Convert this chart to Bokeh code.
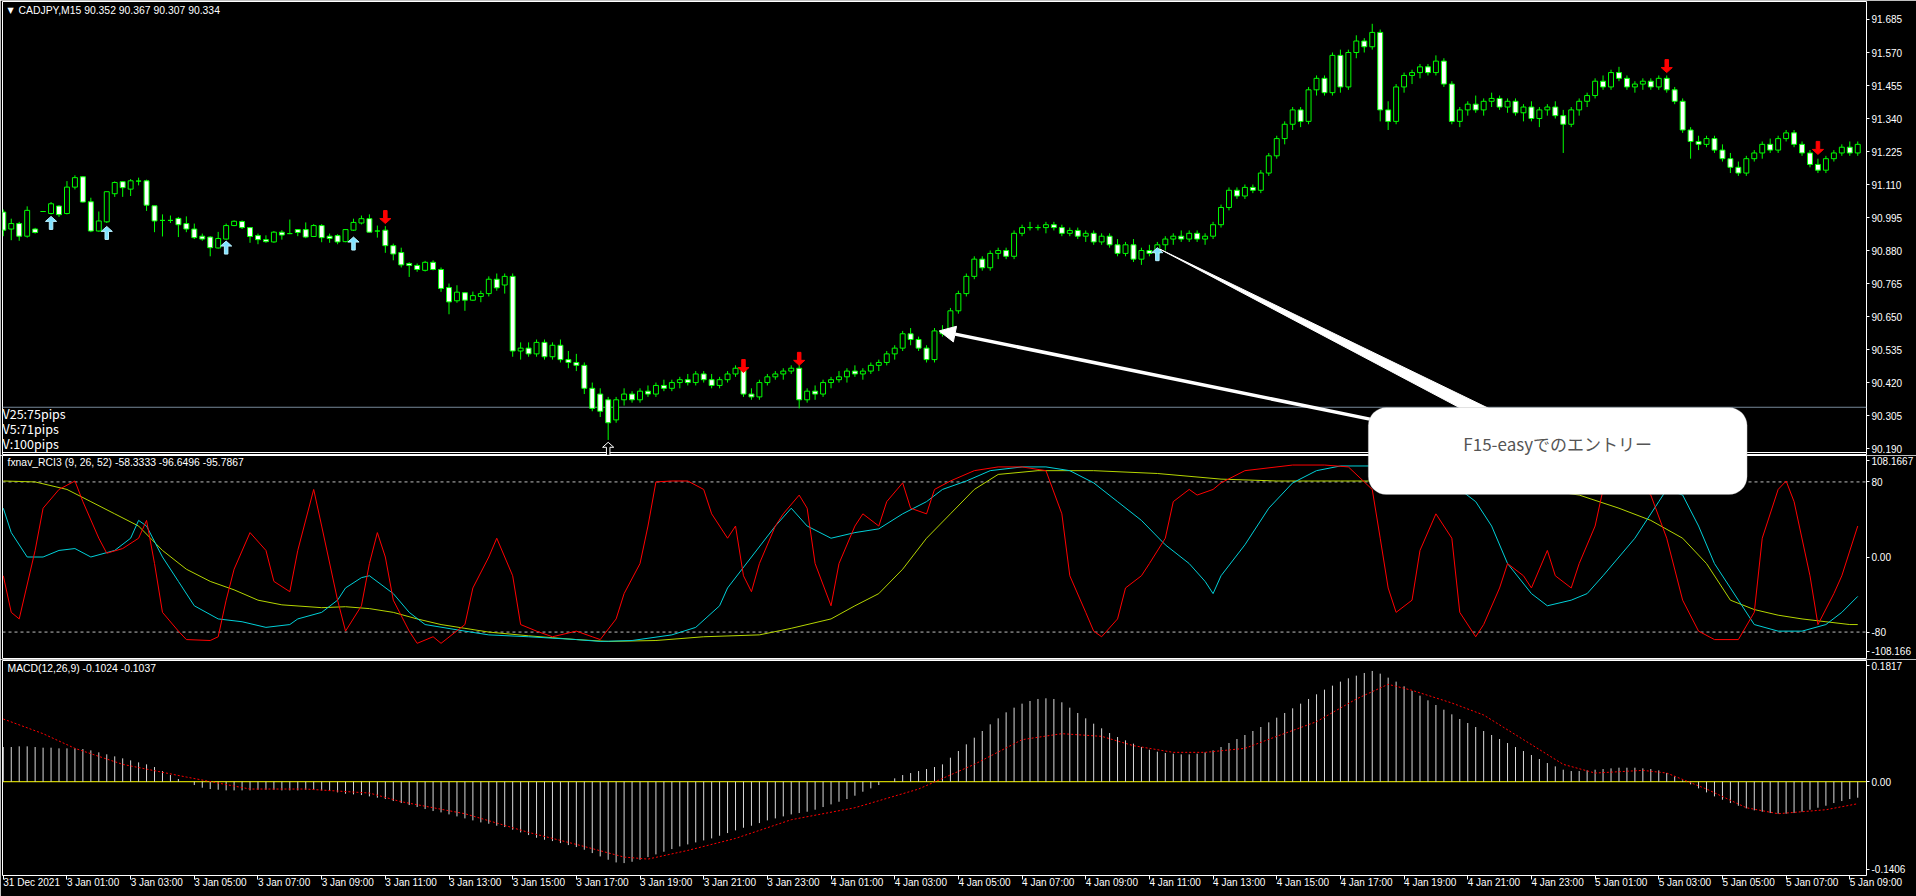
import numpy as np
from bokeh.plotting import figure
from bokeh.layouts import column
from bokeh.models import (Range1d, FixedTicker, Label, Span, BoxAnnotation, PolyAnnotation,
                          Arrow, NormalHead, ColumnDataSource)
from bokeh.embed import file_html
from bokeh.resources import INLINE

# ---------------- data ----------------
opens = [
 91.014, 90.955, 90.974, 90.930, 90.955, 91.016, 91.009, 91.035, 91.009, 91.101,
 91.137, 91.050, 90.948, 90.980, 91.078, 91.120, 91.094, 91.122, 91.123, 91.036,
 90.985, 90.985, 90.992, 90.974, 90.955, 90.930, 90.927, 90.889, 90.920, 90.967,
 90.981, 90.960, 90.932, 90.918, 90.910, 90.944, 90.939, 90.953, 90.953, 90.929,
 90.967, 90.930, 90.932, 90.911, 90.951, 90.976, 90.991, 90.948, 90.951, 90.897,
 90.873, 90.835, 90.828, 90.811, 90.839, 90.814, 90.751, 90.705, 90.733, 90.707,
 90.72, 90.73, 90.78, 90.76, 90.79, 90.53, 90.54, 90.52, 90.56, 90.51,
 90.55, 90.50, 90.49, 90.48, 90.40, 90.38, 90.36, 90.29, 90.36, 90.38,
 90.36, 90.39, 90.38, 90.41, 90.40, 90.42, 90.43, 90.42, 90.45, 90.43,
 90.41, 90.43, 90.45, 90.47, 90.38, 90.37, 90.42, 90.44, 90.45, 90.46,
 90.47, 90.36, 90.39, 90.38, 90.42, 90.43, 90.44, 90.46, 90.45, 90.46,
 90.48, 90.49, 90.52, 90.54, 90.59, 90.57, 90.54, 90.50, 90.60, 90.59,
 90.67, 90.73, 90.79, 90.85, 90.82, 90.87, 90.88, 90.86, 90.94, 90.96,
 90.96, 90.96, 90.97, 90.96, 90.94, 90.95, 90.93, 90.94, 90.91, 90.93,
 90.90, 90.87, 90.90, 90.85, 90.88, 90.87, 90.90, 90.92, 90.93, 90.92,
 90.94, 90.92, 90.93, 90.97, 91.03, 91.09, 91.07, 91.10, 91.09, 91.15,
 91.21, 91.27, 91.32, 91.37, 91.33, 91.44, 91.48, 91.43, 91.56, 91.45,
 91.57, 91.61, 91.59, 91.64, 91.37, 91.33, 91.45, 91.49, 91.50, 91.52,
 91.50, 91.54, 91.46, 91.33, 91.37, 91.39, 91.37, 91.40, 91.41, 91.38,
 91.40, 91.36, 91.38, 91.34, 91.37, 91.38, 91.35, 91.32, 91.37, 91.40,
 91.42, 91.47, 91.45, 91.50, 91.48, 91.45, 91.46, 91.47, 91.45, 91.48,
 91.44, 91.40, 91.30, 91.26, 91.25, 91.27, 91.23, 91.20, 91.17, 91.15,
 91.20, 91.22, 91.25, 91.23, 91.27, 91.29, 91.25, 91.22, 91.18, 91.16,
 91.20, 91.22, 91.24, 91.22]
highs = [
 91.023, 90.991, 90.980, 91.034, 90.959, 91.017, 91.049, 91.038, 91.122, 91.142,
 91.139, 91.064, 91.016, 91.085, 91.121, 91.122, 91.129, 91.134, 91.127, 91.036,
 91.006, 91.002, 90.997, 90.999, 90.974, 90.939, 90.930, 90.945, 90.974, 90.985,
 90.985, 90.960, 90.939, 90.933, 90.948, 90.951, 90.988, 90.955, 90.978, 90.972,
 90.972, 90.939, 90.937, 90.955, 90.991, 91.002, 91.006, 90.967, 90.965, 90.904,
 90.890, 90.839, 90.835, 90.844, 90.846, 90.821, 90.765, 90.759, 90.735, 90.737,
 90.74, 90.79, 90.80, 90.80, 90.80, 90.56, 90.56, 90.57, 90.57, 90.56,
 90.57, 90.53, 90.52, 90.49, 90.42, 90.40, 90.37, 90.37, 90.40, 90.39,
 90.40, 90.41, 90.42, 90.43, 90.43, 90.44, 90.45, 90.46, 90.46, 90.45,
 90.44, 90.46, 90.48, 90.48, 90.40, 90.43, 90.45, 90.46, 90.47, 90.48,
 90.49, 90.40, 90.41, 90.43, 90.44, 90.46, 90.47, 90.48, 90.47, 90.49,
 90.50, 90.53, 90.55, 90.60, 90.61, 90.58, 90.55, 90.61, 90.62, 90.68,
 90.74, 90.80, 90.86, 90.86, 90.88, 90.89, 90.89, 90.95, 90.97, 90.98,
 90.97, 90.98, 90.98, 90.97, 90.96, 90.96, 90.95, 90.95, 90.94, 90.94,
 90.92, 90.91, 90.92, 90.89, 90.90, 90.91, 90.93, 90.94, 90.95, 90.95,
 90.95, 90.94, 90.98, 91.04, 91.10, 91.10, 91.11, 91.11, 91.16, 91.22,
 91.28, 91.33, 91.38, 91.38, 91.45, 91.49, 91.49, 91.57, 91.58, 91.58,
 91.63, 91.62, 91.67, 91.65, 91.40, 91.46, 91.50, 91.51, 91.53, 91.53,
 91.56, 91.55, 91.47, 91.38, 91.40, 91.42, 91.41, 91.43, 91.42, 91.41,
 91.41, 91.39, 91.40, 91.38, 91.39, 91.40, 91.37, 91.38, 91.41, 91.43,
 91.48, 91.49, 91.51, 91.52, 91.49, 91.47, 91.48, 91.48, 91.49, 91.49,
 91.45, 91.41, 91.31, 91.28, 91.28, 91.28, 91.25, 91.22, 91.19, 91.21,
 91.23, 91.26, 91.27, 91.28, 91.30, 91.30, 91.26, 91.23, 91.20, 91.21,
 91.23, 91.25, 91.26, 91.26]
lows = [
 90.930, 90.916, 90.914, 90.925, 90.939, 91.015, 91.006, 90.997, 91.006, 91.093,
 91.047, 90.944, 90.946, 90.976, 91.067, 91.067, 91.070, 91.107, 91.018, 90.944,
 90.929, 90.976, 90.927, 90.944, 90.920, 90.914, 90.860, 90.887, 90.918, 90.965,
 90.955, 90.907, 90.902, 90.907, 90.907, 90.918, 90.937, 90.930, 90.923, 90.927,
 90.909, 90.907, 90.902, 90.909, 90.948, 90.971, 90.943, 90.925, 90.872, 90.846,
 90.821, 90.788, 90.806, 90.807, 90.811, 90.736, 90.658, 90.698, 90.670, 90.705,
 90.70, 90.72, 90.74, 90.73, 90.51, 90.50, 90.51, 90.51, 90.50, 90.50,
 90.49, 90.47, 90.46, 90.38, 90.32, 90.30, 90.22, 90.28, 90.34, 90.35,
 90.35, 90.37, 90.37, 90.39, 90.39, 90.40, 90.41, 90.41, 90.42, 90.40,
 90.40, 90.42, 90.44, 90.37, 90.36, 90.36, 90.41, 90.43, 90.43, 90.45,
 90.33, 90.35, 90.36, 90.37, 90.40, 90.42, 90.42, 90.44, 90.43, 90.45,
 90.46, 90.48, 90.50, 90.53, 90.55, 90.53, 90.49, 90.49, 90.58, 90.58,
 90.66, 90.72, 90.78, 90.81, 90.81, 90.85, 90.85, 90.85, 90.93, 90.95,
 90.95, 90.94, 90.95, 90.93, 90.93, 90.92, 90.91, 90.90, 90.90, 90.89,
 90.86, 90.86, 90.84, 90.83, 90.86, 90.86, 90.88, 90.90, 90.91, 90.91,
 90.91, 90.90, 90.92, 90.96, 91.02, 91.06, 91.06, 91.08, 91.08, 91.14,
 91.20, 91.25, 91.30, 91.31, 91.32, 91.42, 91.42, 91.42, 91.43, 91.44,
 91.55, 91.57, 91.58, 91.33, 91.30, 91.32, 91.43, 91.46, 91.48, 91.49,
 91.49, 91.45, 91.32, 91.31, 91.35, 91.36, 91.35, 91.38, 91.37, 91.36,
 91.35, 91.33, 91.33, 91.31, 91.35, 91.34, 91.22, 91.31, 91.35, 91.38,
 91.41, 91.44, 91.44, 91.47, 91.44, 91.43, 91.44, 91.44, 91.44, 91.43,
 91.39, 91.29, 91.20, 91.23, 91.24, 91.22, 91.19, 91.15, 91.14, 91.14,
 91.19, 91.20, 91.22, 91.22, 91.26, 91.24, 91.21, 91.17, 91.15, 91.15,
 91.19, 91.21, 91.21, 91.21]
closes = [
 90.951, 90.974, 90.930, 91.020, 90.943, 91.016, 91.043, 91.005, 91.101, 91.134,
 91.049, 90.948, 90.983, 91.085, 91.117, 91.099, 91.123, 91.122, 91.038, 90.983,
 90.985, 90.985, 90.970, 90.955, 90.925, 90.920, 90.890, 90.922, 90.967, 90.982,
 90.960, 90.929, 90.918, 90.911, 90.944, 90.934, 90.939, 90.943, 90.927, 90.967,
 90.925, 90.922, 90.910, 90.953, 90.978, 90.991, 90.944, 90.948, 90.897, 90.868,
 90.830, 90.828, 90.814, 90.839, 90.814, 90.748, 90.701, 90.735, 90.707, 90.723,
 90.73, 90.78, 90.75, 90.79, 90.53, 90.54, 90.52, 90.56, 90.51, 90.55,
 90.50, 90.49, 90.48, 90.40, 90.33, 90.32, 90.28, 90.36, 90.38, 90.36,
 90.39, 90.38, 90.41, 90.40, 90.42, 90.43, 90.42, 90.45, 90.43, 90.41,
 90.43, 90.45, 90.47, 90.38, 90.37, 90.42, 90.44, 90.45, 90.46, 90.47,
 90.36, 90.39, 90.38, 90.42, 90.43, 90.44, 90.46, 90.45, 90.46, 90.48,
 90.49, 90.52, 90.54, 90.59, 90.57, 90.54, 90.50, 90.60, 90.59, 90.67,
 90.73, 90.79, 90.85, 90.82, 90.87, 90.88, 90.86, 90.94, 90.96, 90.96,
 90.96, 90.97, 90.96, 90.94, 90.95, 90.93, 90.94, 90.91, 90.93, 90.90,
 90.87, 90.90, 90.85, 90.88, 90.87, 90.90, 90.92, 90.93, 90.92, 90.94,
 90.92, 90.93, 90.97, 91.03, 91.09, 91.07, 91.10, 91.09, 91.15, 91.21,
 91.27, 91.32, 91.37, 91.33, 91.44, 91.48, 91.43, 91.56, 91.45, 91.57,
 91.61, 91.59, 91.64, 91.37, 91.33, 91.45, 91.49, 91.50, 91.52, 91.50,
 91.54, 91.46, 91.33, 91.37, 91.39, 91.37, 91.40, 91.41, 91.38, 91.40,
 91.36, 91.38, 91.34, 91.37, 91.38, 91.35, 91.32, 91.37, 91.40, 91.42,
 91.47, 91.45, 91.50, 91.48, 91.45, 91.46, 91.47, 91.45, 91.48, 91.44,
 91.40, 91.30, 91.26, 91.25, 91.27, 91.23, 91.20, 91.17, 91.15, 91.20,
 91.22, 91.25, 91.23, 91.27, 91.29, 91.25, 91.22, 91.18, 91.16, 91.20,
 91.22, 91.24, 91.22, 91.25]

# signal arrows (candle index, tip price)
up_arrow_k = [6, 13, 28, 44, 145]
up_arrow_tip = [90.999, 90.964, 90.913, 90.927, 90.890]
down_arrow_k = [48, 93, 100, 209, 228]
down_arrow_tip = [90.974, 90.455, 90.480, 91.500, 91.215]
hollow_arrow_k = [76]
hollow_arrow_tip = [90.212]

# RCI (9, 26, 52)
rci9_k = [0,1,2,4,5,7,9,10,12,13,15,17,18,19,20,22,23,26,27,28,29,31,33,34,36,37,39,40,42,43,45,46,47,48,49,51,52,54,55,58,59,61,62,64,65,67,69,72,74,75,77,78,80,81,82,84,86,88,89,91,92,93,94,95,97,98,100,101,102,104,105,107,108,110,111,113,114,116,117,119,122,125,128,131,133,134,136,137,138,140,141,143,144,146,147,149,150,152,153,156,162,166,169,172,173,174,175,177,178,180,182,183,185,186,188,189,191,192,194,195,197,198,200,201,203,205,207,209,211,213,215,218,220,221,223,224,225,227,228,230,231,233]
rci9_v = [-20,-59,-66,7,52,72,81,59,20,4,9,20,39,-7,-59,-79,-88,-89,-85,-46,-13,26,7,-26,-37,7,72,33,-46,-79,-52,-7,26,0,-46,-79,-92,-85,-92,-72,-33,0,20,-20,-72,-79,-85,-79,-85,-88,-66,-39,-7,33,80,81,81,72,46,20,33,-20,-37,-7,33,46,66,52,-7,-52,-7,33,46,33,59,79,52,46,72,81,92,96,96,92,46,-20,-59,-79,-85,-66,-33,-20,-7,20,59,72,66,72,79,92,98,98,96,72,20,-33,-59,-46,7,46,20,-59,-85,-72,-33,-7,-20,-33,7,-20,-33,-7,33,72,79,81,66,20,-46,-79,-88,-88,-59,20,72,81,59,-20,-72,-39,-20,33]
rci26_k = [0,1,3,5,7,9,11,14,16,17,18,20,22,24,27,30,33,36,37,40,42,43,45,46,49,51,53,58,61,66,72,75,79,84,87,90,91,94,97,99,101,104,107,110,113,116,118,121,124,128,131,134,137,140,143,146,149,151,152,153,156,159,162,165,168,174,179,180,183,185,187,189,192,194,197,199,201,205,208,209,211,213,215,218,220,223,226,229,231,233]
rci26_v = [52,26,0,0,7,9,0,7,20,39,33,0,-26,-52,-66,-69,-75,-72,-66,-59,-46,-33,-22,-20,-39,-59,-72,-79,-83,-85,-88,-90,-89,-83,-75,-52,-33,0,33,52,33,20,26,30,46,59,72,81,92,96,96,92,79,59,39,13,-7,-26,-39,-20,13,52,79,92,97,97,92,79,72,59,33,-7,-39,-52,-46,-39,-20,20,59,72,66,33,-7,-46,-72,-79,-79,-72,-59,-42]
rci52_k = [0,4,8,11,14,17,20,23,26,29,32,35,40,43,46,49,52,55,58,61,66,72,76,82,88,95,99,104,107,110,113,116,119,122,125,130,137,145,153,160,168,175,183,191,198,203,207,211,214,217,220,223,226,229,232,233]
rci52_v = [81,80,72,59,46,33,7,-13,-26,-35,-46,-51,-54,-53,-55,-59,-66,-72,-76,-80,-84,-88,-90,-89,-85,-83,-76,-66,-52,-39,-13,20,46,72,88,92,92,89,83,81,81,81,79,75,66,52,39,20,-7,-46,-56,-62,-66,-69,-72,-72]

# MACD (12,26,9)
macd_hist = [
 0.052,0.052,0.053,0.053,0.052,0.051,0.051,0.050,0.050,0.050,
 0.049,0.047,0.044,0.041,0.038,0.035,0.032,0.029,0.026,0.022,
 0.016,0.010,0.004,0.000,-0.005,-0.009,-0.011,-0.012,-0.013,-0.013,
 -0.013,-0.013,-0.012,-0.012,-0.012,-0.013,-0.013,-0.013,-0.012,-0.012,
 -0.013,-0.014,-0.016,-0.018,-0.019,-0.020,-0.022,-0.024,-0.026,-0.029,
 -0.032,-0.035,-0.038,-0.041,-0.044,-0.046,-0.049,-0.052,-0.055,-0.058,
 -0.061,-0.063,-0.066,-0.068,-0.072,-0.076,-0.080,-0.084,-0.087,-0.089,
 -0.092,-0.095,-0.098,-0.102,-0.107,-0.112,-0.117,-0.121,-0.122,-0.120,
 -0.117,-0.113,-0.109,-0.105,-0.101,-0.097,-0.094,-0.091,-0.088,-0.085,
 -0.081,-0.077,-0.073,-0.069,-0.066,-0.062,-0.058,-0.055,-0.052,-0.049,
 -0.047,-0.045,-0.042,-0.038,-0.034,-0.030,-0.026,-0.021,-0.015,-0.010,
 -0.005,0.000,0.005,0.010,0.013,0.016,0.019,0.022,0.026,0.036,
 0.046,0.056,0.066,0.076,0.086,0.095,0.104,0.111,0.117,0.121,
 0.124,0.125,0.124,0.119,0.111,0.103,0.095,0.087,0.080,0.073,
 0.067,0.062,0.057,0.052,0.048,0.045,0.043,0.042,0.041,0.041,
 0.042,0.044,0.047,0.052,0.058,0.064,0.070,0.076,0.082,0.089,
 0.096,0.103,0.110,0.117,0.124,0.131,0.138,0.144,0.150,0.155,
 0.159,0.163,0.166,0.162,0.156,0.150,0.143,0.136,0.129,0.122,
 0.115,0.108,0.101,0.094,0.088,0.082,0.076,0.070,0.064,0.058,
 0.052,0.046,0.040,0.034,0.028,0.023,0.018,0.016,0.016,0.017,
 0.018,0.019,0.020,0.021,0.021,0.021,0.020,0.019,0.017,0.013,
 0.008,0.002,-0.004,-0.010,-0.016,-0.022,-0.027,-0.032,-0.036,-0.040,
 -0.043,-0.045,-0.047,-0.048,-0.048,-0.047,-0.045,-0.042,-0.039,-0.036,
 -0.032,-0.029,-0.026,-0.024]
macd_sig_k = [0,5,9,15,23,31,38,46,50,58,66,72,78,81,86,92,99,107,115,122,128,133,138,142,147,151,156,160,165,170,174,177,182,186,191,196,200,206,209,214,219,223,229,233]
macd_sig_v = [0.094,0.072,0.05,0.026,0.007,-0.011,-0.011,-0.017,-0.03,-0.048,-0.076,-0.094,-0.113,-0.116,-0.103,-0.085,-0.057,-0.039,-0.011,0.026,0.063,0.072,0.068,0.054,0.044,0.044,0.05,0.068,0.09,0.124,0.146,0.137,0.118,0.1,0.063,0.026,0.013,0.017,0.013,-0.011,-0.039,-0.048,-0.042,-0.033]

# axis ticks / labels
price_ticks = [91.685, 91.570, 91.455, 91.340, 91.225, 91.110, 90.995, 90.880, 90.765, 90.650, 90.535, 90.420, 90.305, 90.190]
price_tick_labels = ["91.685", "91.570", "91.455", "91.340", "91.225", "91.110", "90.995", "90.880", "90.765", "90.650", "90.535", "90.420", "90.305", "90.190"]
bid_price = 90.334
rci_ticks = [102.8, 80, 0, -80, -100.7]
rci_tick_labels = ["108.1667", "80", "0.00", "-80", "-108.166"]
macd_ticks = [0.1741, 0.0, -0.1315]
macd_tick_labels = ["0.1817", "0.00", "-0.1406"]
time_ticks = list(range(0, 233, 8))
time_labels = ["31 Dec 2021",
 "3 Jan 01:00", "3 Jan 03:00", "3 Jan 05:00", "3 Jan 07:00", "3 Jan 09:00", "3 Jan 11:00",
 "3 Jan 13:00", "3 Jan 15:00", "3 Jan 17:00", "3 Jan 19:00", "3 Jan 21:00", "3 Jan 23:00",
 "4 Jan 01:00", "4 Jan 03:00", "4 Jan 05:00", "4 Jan 07:00", "4 Jan 09:00", "4 Jan 11:00",
 "4 Jan 13:00", "4 Jan 15:00", "4 Jan 17:00", "4 Jan 19:00", "4 Jan 21:00", "4 Jan 23:00",
 "5 Jan 01:00", "5 Jan 03:00", "5 Jan 05:00", "5 Jan 07:00", "5 Jan 09:00"]

header_main = "CADJPY,M15  90.352 90.367 90.307 90.334"
header_rci = "fxnav_RCI3 (9, 26, 52) -58.3333 -96.6496 -95.7867"
header_macd = "MACD(12,26,9) -0.1024 -0.1037"
vol_labels = ["V25:75pips", "V5:71pips", "V:100pips"]
callout_text = "F15-easyでのエントリー"
entry_k = 117
signal_k = 145

# ---------------- layout ----------------
W = 1916
BR = 48
H1, H2, H3 = 455, 204, 237
FH1, FH2, FH3 = H1 - 1, H2 - 1, H3 - 22
xr = Range1d(-0.1, 234.1)
AXIS_FONT = "Liberation Sans"
Y1 = (90.1659, 91.7477)
main_bottom_price = 90.1763


def make_fig(h, yr, top, bottom, xloc=None):
    p = figure(width=W, height=h, x_range=xr, y_range=yr, output_backend="svg",
               toolbar_location=None, background_fill_color="black", border_fill_color="black",
               min_border_left=2, min_border_right=BR, min_border_top=top, min_border_bottom=bottom,
               y_axis_location="right", x_axis_location=xloc)
    p.grid.visible = False
    p.outline_line_color = "white"
    p.outline_line_width = 1
    ax = p.yaxis[0]
    ax.axis_line_color = None
    ax.major_tick_line_color = "white"
    ax.major_tick_out = 3
    ax.major_tick_in = 0
    ax.minor_tick_line_color = None
    ax.major_label_text_color = "white"
    ax.major_label_text_font = AXIS_FONT
    ax.major_label_text_font_size = "10px"
    ax.major_label_standoff = 2
    return p


p1 = make_fig(H1, Range1d(*Y1), 1, 0)
p1.yaxis.ticker = FixedTicker(ticks=price_ticks)
p1.yaxis.major_label_overrides = dict(zip(price_ticks, price_tick_labels))

px1 = (Y1[1] - Y1[0]) / FH1

p1.add_layout(Span(location=main_bottom_price, dimension="width", line_color="white", line_width=1,
                   level="underlay"))
p1.add_layout(Span(location=bid_price, dimension="width", line_color="#778899", line_width=1, level="underlay"))

o = np.array(opens); c = np.array(closes)
idx = np.arange(len(opens))
src = ColumnDataSource(dict(x=idx, top=np.maximum(o, c), bottom=np.minimum(o, c), high=highs, low=lows,
                            fill=["black" if cc >= oo else "white" for oo, cc in zip(o, c)]))
p1.segment("x", "high", "x", "low", source=src, line_color="#00ff00", line_width=1)
p1.vbar(x="x", width=0.62, top="top", bottom="bottom", fill_color="fill", line_color="#00ff00",
        line_width=1, source=src)


def up_arrow(k, t):
    hw, sw = 0.70, 0.22
    return ([k, k - hw, k - sw, k - sw, k + sw, k + sw, k + hw],
            [t, t - 5 * px1, t - 5 * px1, t - 13 * px1, t - 13 * px1, t - 5 * px1, t - 5 * px1])


def down_arrow(k, t):
    xs, ys = up_arrow(k, t)
    return xs, [2 * t - y for y in ys]


ua = [up_arrow(k, t) for k, t in zip(up_arrow_k, up_arrow_tip)]
p1.patches([a[0] for a in ua], [a[1] for a in ua], fill_color="#80e2ff", line_color="#b8f0ff", line_width=1)
da = [down_arrow(k, t) for k, t in zip(down_arrow_k, down_arrow_tip)]
p1.patches([a[0] for a in da], [a[1] for a in da], fill_color="#ff0000", line_color="#ff0000", line_width=1)
ha = [up_arrow(k, t) for k, t in zip(hollow_arrow_k, hollow_arrow_tip)]
p1.patches([a[0] for a in ha], [a[1] for a in ha], fill_color="black", line_color="white", line_width=1)

# labels in main panel
p1.add_layout(Label(x=5, y=FH1 - 9, x_units="screen", y_units="screen", text="▼", text_color="white",
                    text_font="DejaVu Sans", text_font_size="8px", text_baseline="middle"))
p1.add_layout(Label(x=16, y=FH1 - 9, x_units="screen", y_units="screen", text=header_main,
                    text_color="white", text_font=AXIS_FONT, text_font_size="10.4px", text_baseline="middle"))
for i, t in enumerate(vol_labels):
    p1.add_layout(Label(x=0, y=42 - 15 * i, x_units="screen", y_units="screen", text=t,
                        text_color="white", text_font="Noto Sans CJK JP", text_font_size="12.5px",
                        text_baseline="middle"))
p1.add_layout(Label(x=234.1 + 0.2, y=bid_price, text="90.334", text_color="black",
                    background_fill_color="white", text_font=AXIS_FONT, text_font_size="10px",
                    text_baseline="middle", padding=1))

# callout
box_l, box_r, box_top_price, box_bottom_rci = 171.5, 219.1, 90.333, 66.6
p1.add_layout(Arrow(end=NormalHead(size=16, fill_color="white", line_color="white"),
                    x_start=box_l + 0.5, y_start=90.291, x_end=entry_k + 0.6, y_end=closes[entry_k],
                    line_color="white", line_width=3.5))
p1.add_layout(PolyAnnotation(xs=[signal_k + 0.3, 184.3, 187.9],
                             ys=[up_arrow_tip[-1] - 0.005, box_top_price - 0.02, box_top_price - 0.02],
                             fill_color="white", fill_alpha=1, line_color="white", line_alpha=1))
p1.add_layout(BoxAnnotation(left=box_l, right=box_r, top=box_top_price, bottom=88.0,
                            fill_color="white", fill_alpha=1, line_color="#9a9a9a", line_width=1,
                            border_radius=(18, 18, 0, 0)))
p1.add_layout(Label(x=(box_l + box_r) / 2, y=90.209, text=callout_text, text_align="center",
                    text_baseline="middle", text_color="#555555", text_font="Noto Sans CJK JP",
                    text_font_size="17px"))

# ---------------- RCI panel ----------------
p2 = make_fig(H2, Range1d(-108.1667, 108.1667), 0, 1)
p2.yaxis.ticker = FixedTicker(ticks=rci_ticks)
p2.yaxis.major_label_overrides = dict(zip(rci_ticks, rci_tick_labels))
for lv in (80, -80):
    p2.add_layout(Span(location=lv, dimension="width", line_color="#bdbdbd", line_dash="3 3",
                       line_width=1, level="underlay"))
p2.line(rci52_k, rci52_v, line_color="#b4d400", line_width=1)
p2.line(rci26_k, rci26_v, line_color="#00d0d8", line_width=1)
p2.line(rci9_k, rci9_v, line_color="#ff0000", line_width=1)
p2.add_layout(Label(x=5, y=FH2 - 7, x_units="screen", y_units="screen", text=header_rci,
                    text_color="white", text_font=AXIS_FONT, text_font_size="10.4px", text_baseline="middle"))
p2.add_layout(BoxAnnotation(left=box_l, right=box_r, top=400, bottom=box_bottom_rci,
                            fill_color="white", fill_alpha=1, line_color="#9a9a9a", line_width=1,
                            border_radius=(0, 0, 18, 18)))

# ---------------- MACD panel ----------------
p3 = make_fig(H3, Range1d(-0.1406, 0.1817), 1, 21, xloc="below")
p3.yaxis.ticker = FixedTicker(ticks=macd_ticks)
p3.yaxis.major_label_overrides = dict(zip(macd_ticks, macd_tick_labels))
xa = p3.xaxis[0]
xa.ticker = FixedTicker(ticks=time_ticks)
xa.major_label_overrides = dict(zip(time_ticks, time_labels))
xa.axis_line_color = None
xa.major_tick_line_color = "white"
xa.major_tick_out = 4
xa.major_tick_in = 0
xa.minor_tick_line_color = None
xa.major_label_text_color = "white"
xa.major_label_text_font = AXIS_FONT
xa.major_label_text_font_size = "10px"
xa.major_label_standoff = 3
xa.major_label_orientation = -1e-6

p3.add_layout(Span(location=0, dimension="width", line_color="#ffff00", line_width=1, level="underlay"))
p3.segment(x0=idx, y0=np.zeros(len(idx)), x1=idx, y1=macd_hist, line_color="#d8d8d8", line_width=1)
p3.line(macd_sig_k, macd_sig_v, line_color="#ff0000", line_dash="2 2", line_width=1)
p3.add_layout(Label(x=5, y=FH3 - 8, x_units="screen", y_units="screen", text=header_macd,
                    text_color="white", text_font=AXIS_FONT, text_font_size="10.4px", text_baseline="middle"))

layout = column(p1, p2, p3, spacing=0)
open("out.html", "w").write(file_html(layout, INLINE))
